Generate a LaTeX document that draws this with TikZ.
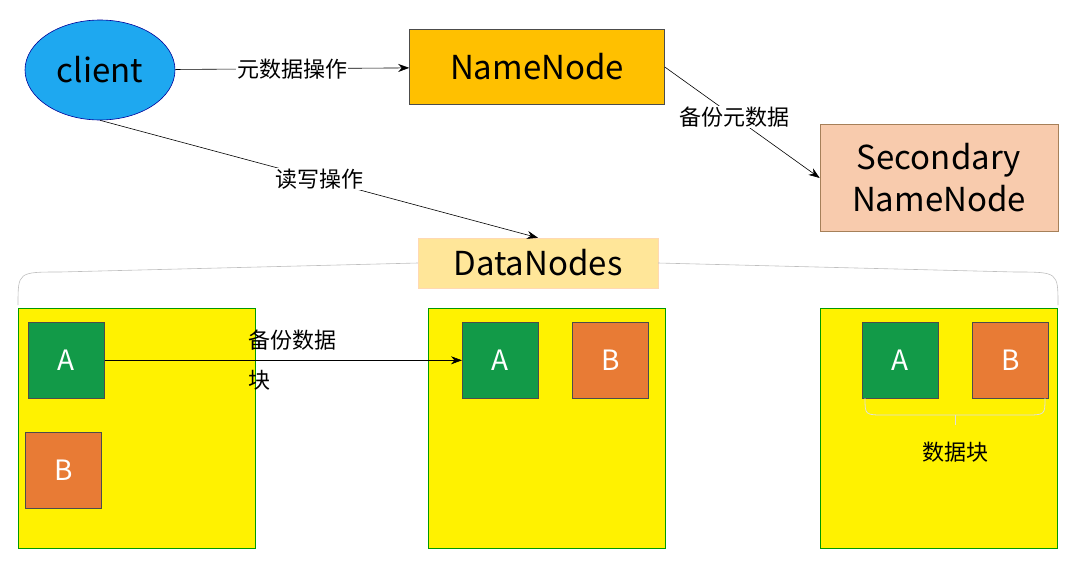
\documentclass[tikz,border=0pt]{standalone}
\usepackage{fontspec}
\setmainfont{Noto Sans CJK SC}
\usetikzlibrary{positioning, arrows.meta, shapes.geometric}
\definecolor{clientblue}{HTML}{1EA8F0}
\definecolor{nnorange}{HTML}{FFC000}
\definecolor{snnpeach}{HTML}{F8CBAD}
\definecolor{dnlabel}{HTML}{FFE699}
\definecolor{blockgreen}{HTML}{129A48}
\definecolor{blockorange}{HTML}{E87B35}
\tikzset{
  bigfont/.style={font=\fontsize{33}{42}\selectfont},
  lbl/.style={font=\fontsize{22}{27}\selectfont, fill=white, inner sep=1pt},
  datanode/.style={draw=green!60!black, semithick, fill=yellow, minimum width=237pt, minimum height=240pt, anchor=north west},
  blk/.style={draw=black!70, semithick, minimum width=76pt, minimum height=76pt, anchor=north west, text=white, font=\fontsize{28}{32}\selectfont},
  blka/.style={blk, fill=blockgreen},
  blkb/.style={blk, fill=blockorange},
  conn/.style={-{Stealth[length=11pt,width=8pt]}, semithick}
}
\begin{document}
\begin{tikzpicture}[x=1pt, y=-1pt]
\useasboundingbox (0,0) rectangle (1078,560);
\node[ellipse, draw=blue!60!black, semithick, fill=clientblue, minimum width=150pt, minimum height=100pt, bigfont] (client) at (100,70) {client};
\node[draw=black!70, semithick, fill=nnorange, minimum width=255pt, minimum height=75pt, bigfont] (nn) at (537,67) {NameNode};
\node[draw=brown!60!gray, semithick, fill=snnpeach, minimum width=238pt, minimum height=107pt, bigfont, align=center] (snn) at (939,178) {Secondary\\NameNode};
\node[draw=orange!30, fill=dnlabel, minimum width=240pt, minimum height=50pt, bigfont] (dn) at (538,263) {DataNodes};
% bracket above the data nodes
\draw[gray!50, semithick] (18,305) .. controls (18,272) .. (60,272) -- (dn.west);
\draw[gray!50, semithick] (dn.east) -- (1015,272) .. controls (1058,272) .. (1058,305);
% data nodes
\node[datanode] (d1) at (18,308) {};
\node[datanode] (d2) at (428,308) {};
\node[datanode] (d3) at (820,308) {};
\node[blka] (a1) at (28,322) {A};
\node[blkb] (b1) at (25,432) {B};
\node[blka] (a2) at (462,322) {A};
\node[blkb] (b2) at (572,322) {B};
\node[blka] (a3) at (862,322) {A};
\node[blkb] (b3) at (972,322) {B};
% bracket under the blocks
\coordinate (bl) at (865,398);
\coordinate (br) at (1045,398);
\coordinate (bm) at (955,415);
\draw[white!75!gray, thick] (bl) .. controls (865,415) .. (885,415) -- (1025,415) .. controls (1045,415) .. (br);
\draw[white!75!gray, thick] (bm) -- ++(0,10);
\node[font=\fontsize{22}{27}\selectfont] (blklbl) at (955,452) {数据块};
% connectors
\draw[conn] (client) -- node[lbl] {元数据操作} (nn);
\draw[conn] (nn.east) -- node[lbl, pos=0.45] {备份元数据} (snn.west);
\draw[conn] (client.south) -- node[lbl, pos=0.5] {读写操作} (dn.north);
\draw[conn] (a1) -- (a2);
\node[font=\fontsize{22}{40}\selectfont, align=left, anchor=west] (copylbl) at (245,360) {备份数据\\块};
\end{tikzpicture}
\end{document}
